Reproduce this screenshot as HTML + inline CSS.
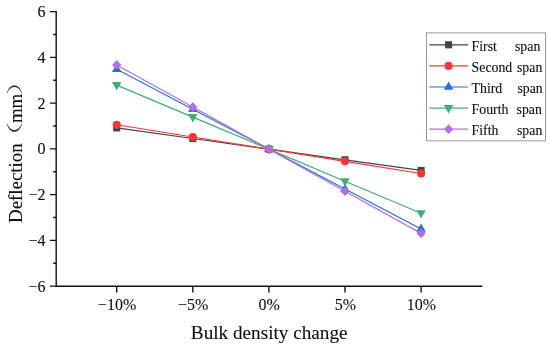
<!DOCTYPE html>
<html><head><meta charset="utf-8"><title>Deflection vs bulk density change</title>
<style>
html,body{margin:0;padding:0;background:#fff;}
body{width:550px;height:347px;overflow:hidden;}
svg{display:block;}
text{font-family:"Liberation Serif","Noto Serif CJK SC",serif;fill:#111;stroke:#111;stroke-width:0.12px;}
.tick{font-size:16px;}
.lab{font-size:19.2px;}
.leg{font-size:13.8px;}
body{position:relative;}
.ylab{position:absolute;left:13.85px;top:222.9px;height:0;line-height:0;white-space:nowrap;font-family:"Liberation Serif","Noto Serif CJK SC",serif;font-size:18.9px;color:#111;transform-origin:0 0;transform:rotate(-90deg);-webkit-text-stroke:0.12px #111;}
.p{display:inline-block;font-family:"Noto Serif CJK SC",serif;line-height:0;-webkit-text-stroke:0;color:#333;}
.pl{transform-origin:100% 50%;transform:translate(1.3px,-0.9px) scale(1.5,0.86);margin-left:1.3px;}
.pr{transform-origin:0% 50%;transform:translate(-1px,-0.9px) scale(1.5,0.86);}
</style></head><body>
<svg width="550" height="347" viewBox="0 0 550 347">
<rect width="550" height="347" fill="#fff"/>
<path d="M56.2,11.0V286.3H482.4 M56.2,11.60h-6.3 M56.2,57.36h-6.3 M56.2,103.12h-6.3 M56.2,148.88h-6.3 M56.2,194.64h-6.3 M56.2,240.40h-6.3 M56.2,286.16h-6.3 M56.2,34.48h-3 M56.2,80.24h-3 M56.2,126.00h-3 M56.2,171.76h-3 M56.2,217.52h-3 M56.2,263.28h-3 M116.70,286.3v6.3 M192.80,286.3v6.3 M268.90,286.3v6.3 M345.00,286.3v6.3 M421.10,286.3v6.3" fill="none" stroke="#111" stroke-width="1.4"/>
<text class="tick" x="45.60" y="17.10" text-anchor="end">6</text>
<text class="tick" x="45.60" y="62.86" text-anchor="end">4</text>
<text class="tick" x="45.60" y="108.62" text-anchor="end">2</text>
<text class="tick" x="45.60" y="154.38" text-anchor="end">0</text>
<text class="tick" x="45.60" y="200.14" text-anchor="end">−2</text>
<text class="tick" x="45.60" y="245.90" text-anchor="end">−4</text>
<text class="tick" x="45.60" y="291.66" text-anchor="end">−6</text>
<text class="tick" x="117.05" y="310" text-anchor="middle">−10%</text>
<text class="tick" x="193.15" y="310" text-anchor="middle">−5%</text>
<text class="tick" x="269.25" y="310" text-anchor="middle">0%</text>
<text class="tick" x="345.35" y="310" text-anchor="middle">5%</text>
<text class="tick" x="421.45" y="310" text-anchor="middle">10%</text>
<text class="lab" x="269.2" y="338.7" text-anchor="middle">Bulk density change</text>
<polyline points="116.70,127.87 192.80,138.51 268.90,149.15 345.00,159.79 421.10,170.43" fill="none" stroke="#444444" stroke-width="1.2"/>
<rect x="113.15" y="124.32" width="7.1" height="7.1" fill="#444444"/>
<rect x="189.25" y="134.96" width="7.1" height="7.1" fill="#444444"/>
<rect x="265.35" y="145.60" width="7.1" height="7.1" fill="#444444"/>
<rect x="341.45" y="156.24" width="7.1" height="7.1" fill="#444444"/>
<rect x="417.55" y="166.88" width="7.1" height="7.1" fill="#444444"/>
<polyline points="116.70,124.78 192.80,136.97 268.90,149.15 345.00,161.33 421.10,173.52" fill="none" stroke="#f23838" stroke-width="1.2"/>
<circle cx="116.70" cy="124.78" r="4.05" fill="#f23838"/>
<circle cx="192.80" cy="136.97" r="4.05" fill="#f23838"/>
<circle cx="268.90" cy="149.15" r="4.05" fill="#f23838"/>
<circle cx="345.00" cy="161.33" r="4.05" fill="#f23838"/>
<circle cx="421.10" cy="173.52" r="4.05" fill="#f23838"/>
<polyline points="116.70,69.30 192.80,109.22 268.90,149.15 345.00,189.08 421.10,229.00" fill="none" stroke="#2070e0" stroke-width="1.2"/>
<polygon points="112.00,72.10 121.40,72.10 116.70,63.80" fill="#2070e0"/>
<polygon points="188.10,112.02 197.50,112.02 192.80,103.72" fill="#2070e0"/>
<polygon points="264.20,151.95 273.60,151.95 268.90,143.65" fill="#2070e0"/>
<polygon points="340.30,191.88 349.70,191.88 345.00,183.58" fill="#2070e0"/>
<polygon points="416.40,231.80 425.80,231.80 421.10,223.50" fill="#2070e0"/>
<polyline points="116.70,85.09 192.80,117.12 268.90,149.15 345.00,181.18 421.10,213.21" fill="none" stroke="#3cb070" stroke-width="1.2"/>
<polygon points="112.00,82.09 121.40,82.09 116.70,90.39" fill="#3cb070"/>
<polygon points="188.10,114.12 197.50,114.12 192.80,122.42" fill="#3cb070"/>
<polygon points="264.20,146.15 273.60,146.15 268.90,154.45" fill="#3cb070"/>
<polygon points="340.30,178.18 349.70,178.18 345.00,186.48" fill="#3cb070"/>
<polygon points="416.40,210.21 425.80,210.21 421.10,218.51" fill="#3cb070"/>
<polyline points="116.70,64.95 192.80,107.05 268.90,149.15 345.00,191.25 421.10,233.35" fill="none" stroke="#b070e0" stroke-width="1.2"/>
<polygon points="112.05,64.95 116.70,60.10 121.35,64.95 116.70,69.80" fill="#b070e0"/>
<polygon points="188.15,107.05 192.80,102.20 197.45,107.05 192.80,111.90" fill="#b070e0"/>
<polygon points="264.25,149.15 268.90,144.30 273.55,149.15 268.90,154.00" fill="#b070e0"/>
<polygon points="340.35,191.25 345.00,186.40 349.65,191.25 345.00,196.10" fill="#b070e0"/>
<polygon points="416.45,233.35 421.10,228.50 425.75,233.35 421.10,238.20" fill="#b070e0"/>
<rect x="426.5" y="32.9" width="119" height="107.9" fill="#fff" stroke="#999" stroke-width="1"/>
<path d="M429.2,44.80H468" stroke="#444444" stroke-width="1.2"/>
<rect x="445.05" y="41.25" width="7.1" height="7.1" fill="#444444"/>
<text class="leg" x="471.6" y="50.50">First</text>
<text class="leg" x="515.0" y="50.50">span</text>
<path d="M429.2,65.90H468" stroke="#f23838" stroke-width="1.2"/>
<circle cx="448.60" cy="65.90" r="4.05" fill="#f23838"/>
<text class="leg" x="471.6" y="71.60">Second</text>
<text class="leg" x="517.0" y="71.60">span</text>
<path d="M429.2,87.00H468" stroke="#2070e0" stroke-width="1.2"/>
<polygon points="443.90,89.80 453.30,89.80 448.60,81.50" fill="#2070e0"/>
<text class="leg" x="471.6" y="92.70">Third</text>
<text class="leg" x="517.4" y="92.70">span</text>
<path d="M429.2,108.10H468" stroke="#3cb070" stroke-width="1.2"/>
<polygon points="443.90,105.10 453.30,105.10 448.60,113.40" fill="#3cb070"/>
<text class="leg" x="471.6" y="113.80">Fourth</text>
<text class="leg" x="516.6" y="113.80">span</text>
<path d="M429.2,129.20H468" stroke="#b070e0" stroke-width="1.2"/>
<polygon points="443.95,129.20 448.60,124.35 453.25,129.20 448.60,134.05" fill="#b070e0"/>
<text class="leg" x="471.6" y="134.90">Fifth</text>
<text class="leg" x="517.0" y="134.90">span</text>
</svg>
<div class="ylab">Deflection<span class="p pl">（</span>mm<span class="p pr">）</span></div>
</body></html>
